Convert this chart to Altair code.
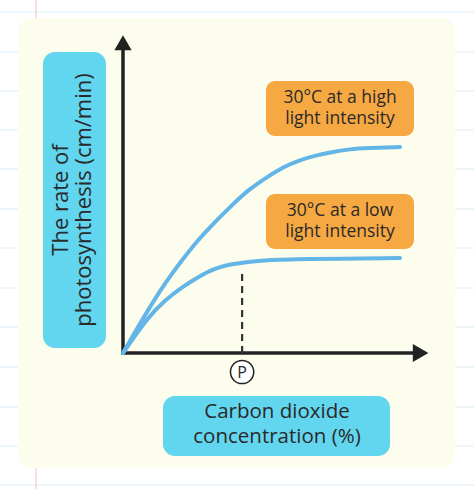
import altair as alt
import pandas as pd

# ---- data (arbitrary units, origin = 0) ----
co2_high = [0, 0.9, 1.52, 2.13, 2.71, 3.32, 3.94, 4.51, 5.2, 5.78, 6.39, 7.0, 7.58, 8.19, 8.81, 10]
rate_high = [0, 2.09, 3.40, 4.51, 5.49, 6.36, 7.18, 7.91, 8.54, 9.03, 9.37, 9.61, 9.76, 9.90, 9.95, 10]
co2_low = [0, 0.9, 1.52, 2.13, 2.71, 3.32, 3.94, 4.51, 5.13, 6.39, 10]
rate_low = [0, 1.75, 2.57, 3.20, 3.69, 4.13, 4.32, 4.42, 4.51, 4.56, 4.61]
series_names = ["30°C at a high light intensity", "30°C at a low light intensity"]
label_high = ["30°C at a high", "light intensity"]
label_low = ["30°C at a low", "light intensity"]
y_title = ["The rate of", "photosynthesis (cm/min)"]
x_title = ["Carbon dioxide", "concentration (%)"]
p_label = "P"
p_value = 4.3
p_top = 4.03

df = pd.DataFrame(
    {"co2": co2_high + co2_low,
     "rate": rate_high + rate_low,
     "series": [series_names[0]] * len(co2_high) + [series_names[1]] * len(co2_low)}
)
one = pd.DataFrame({"k": [0]})
origin = pd.DataFrame({"co2": [0], "rate": [0]})
pdf = pd.DataFrame({"co2": [p_value], "rate": [0], "top": [p_top], "label": [p_label]})

FONT = "Open Sans"
TXT = "#2a2a2a"
CYAN = "#62d5ef"
ORANGE = "#f6a843"
BLUE = "#62b5e6"
CREAM = "#fdfdee"

xs = alt.Scale(domain=[0, 10], range=[123, 400])
ys = alt.Scale(domain=[0, 10], range=[353, 147])
X = alt.X("co2:Q", scale=xs, axis=None)
Y = alt.Y("rate:Q", scale=ys, axis=None)

layers = []

# notebook paper lines
for yy in [12, 52, 91, 130, 169, 209, 248, 288, 327, 367, 407, 446, 485]:
    layers.append(alt.Chart(one).mark_rule(color="#d9eef8", strokeWidth=1.2).encode(
        x=alt.value(0), x2=alt.value(474), y=alt.value(yy)))
layers.append(alt.Chart(one).mark_rule(color="#f2cccc", strokeWidth=1.2).encode(
    x=alt.value(36), y=alt.value(0), y2=alt.value(489)))

# card
layers.append(alt.Chart(one).mark_rect(color=CREAM, cornerRadius=14).encode(
    x=alt.value(18), x2=alt.value(455), y=alt.value(18), y2=alt.value(468)))

# label boxes
layers.append(alt.Chart(one).mark_rect(color=CYAN, cornerRadius=12).encode(
    x=alt.value(43), x2=alt.value(106), y=alt.value(52), y2=alt.value(348)))
layers.append(alt.Chart(one).mark_rect(color=CYAN, cornerRadius=12).encode(
    x=alt.value(163), x2=alt.value(390), y=alt.value(396), y2=alt.value(456)))
layers.append(alt.Chart(one).mark_rect(color=ORANGE, cornerRadius=9).encode(
    x=alt.value(266), x2=alt.value(414), y=alt.value(81), y2=alt.value(136)))
layers.append(alt.Chart(one).mark_rect(color=ORANGE, cornerRadius=9).encode(
    x=alt.value(266), x2=alt.value(414), y=alt.value(194), y2=alt.value(249)))

# axes with arrows
layers.append(alt.Chart(origin).mark_rule(color="#222222", strokeWidth=3.5).encode(
    x=X, y=alt.value(354.7), y2=alt.value(45)))
layers.append(alt.Chart(origin).mark_rule(color="#222222", strokeWidth=3.5).encode(
    y=Y, x=alt.value(121.3), x2=alt.value(418)))
layers.append(alt.Chart(origin).mark_point(shape="triangle-up", filled=True, size=300,
                                           color="#222222", opacity=1).encode(
    x=X, y=alt.value(42.8)))
layers.append(alt.Chart(origin).mark_point(shape="triangle-right", filled=True, size=324,
                                           color="#222222", opacity=1).encode(
    y=Y, x=alt.value(420.6)))

# curves
layers.append(alt.Chart(df).mark_line(color=BLUE, strokeWidth=4, interpolate="basis",
                                      strokeCap="round").encode(
    x=X, y=Y, detail="series:N"))

# dashed P line
layers.append(alt.Chart(pdf).mark_rule(color="#333333", strokeWidth=2.2, strokeDash=[7, 5]).encode(
    x=X, y=Y, y2="top:Q"))
layers.append(alt.Chart(pdf).mark_point(shape="circle", filled=True, size=540, fill="white",
                                        stroke="#222222", strokeWidth=1.5, opacity=1).encode(
    x=X, y=alt.value(372)))
layers.append(alt.Chart(pdf).mark_text(font=FONT, fontSize=16, color=TXT, baseline="middle",
                                       align="center").encode(
    x=X, y=alt.value(373), text="label:N"))


def line_text(txt, x, y, size, angle=0):
    kw = dict(font=FONT, fontSize=size, color=TXT, baseline="middle", align="center")
    if angle:
        kw["angle"] = angle
    return alt.Chart(one).mark_text(**kw).encode(
        x=alt.value(x), y=alt.value(y), text=alt.value(txt))


# y title (rotated), one mark per line
layers.append(line_text(y_title[0], 61, 200, 22, 270))
layers.append(line_text(y_title[1], 84, 200, 22, 270))
# x title
layers.append(line_text(x_title[0], 277, 412, 20.5))
layers.append(line_text(x_title[1], 277, 437, 20.5))
# series labels
layers.append(line_text(label_high[0], 340, 97.5, 17.5))
layers.append(line_text(label_high[1], 340, 119, 17.5))
layers.append(line_text(label_low[0], 340, 210.5, 17.5))
layers.append(line_text(label_low[1], 340, 232, 17.5))

chart = alt.layer(*layers).properties(
    width=474, height=489, autosize=alt.AutoSizeParams(type="none"), padding=0,
    background="white"
).configure_view(stroke=None)

chart.save("out.html", embed_options={"renderer": "svg", "actions": False})
